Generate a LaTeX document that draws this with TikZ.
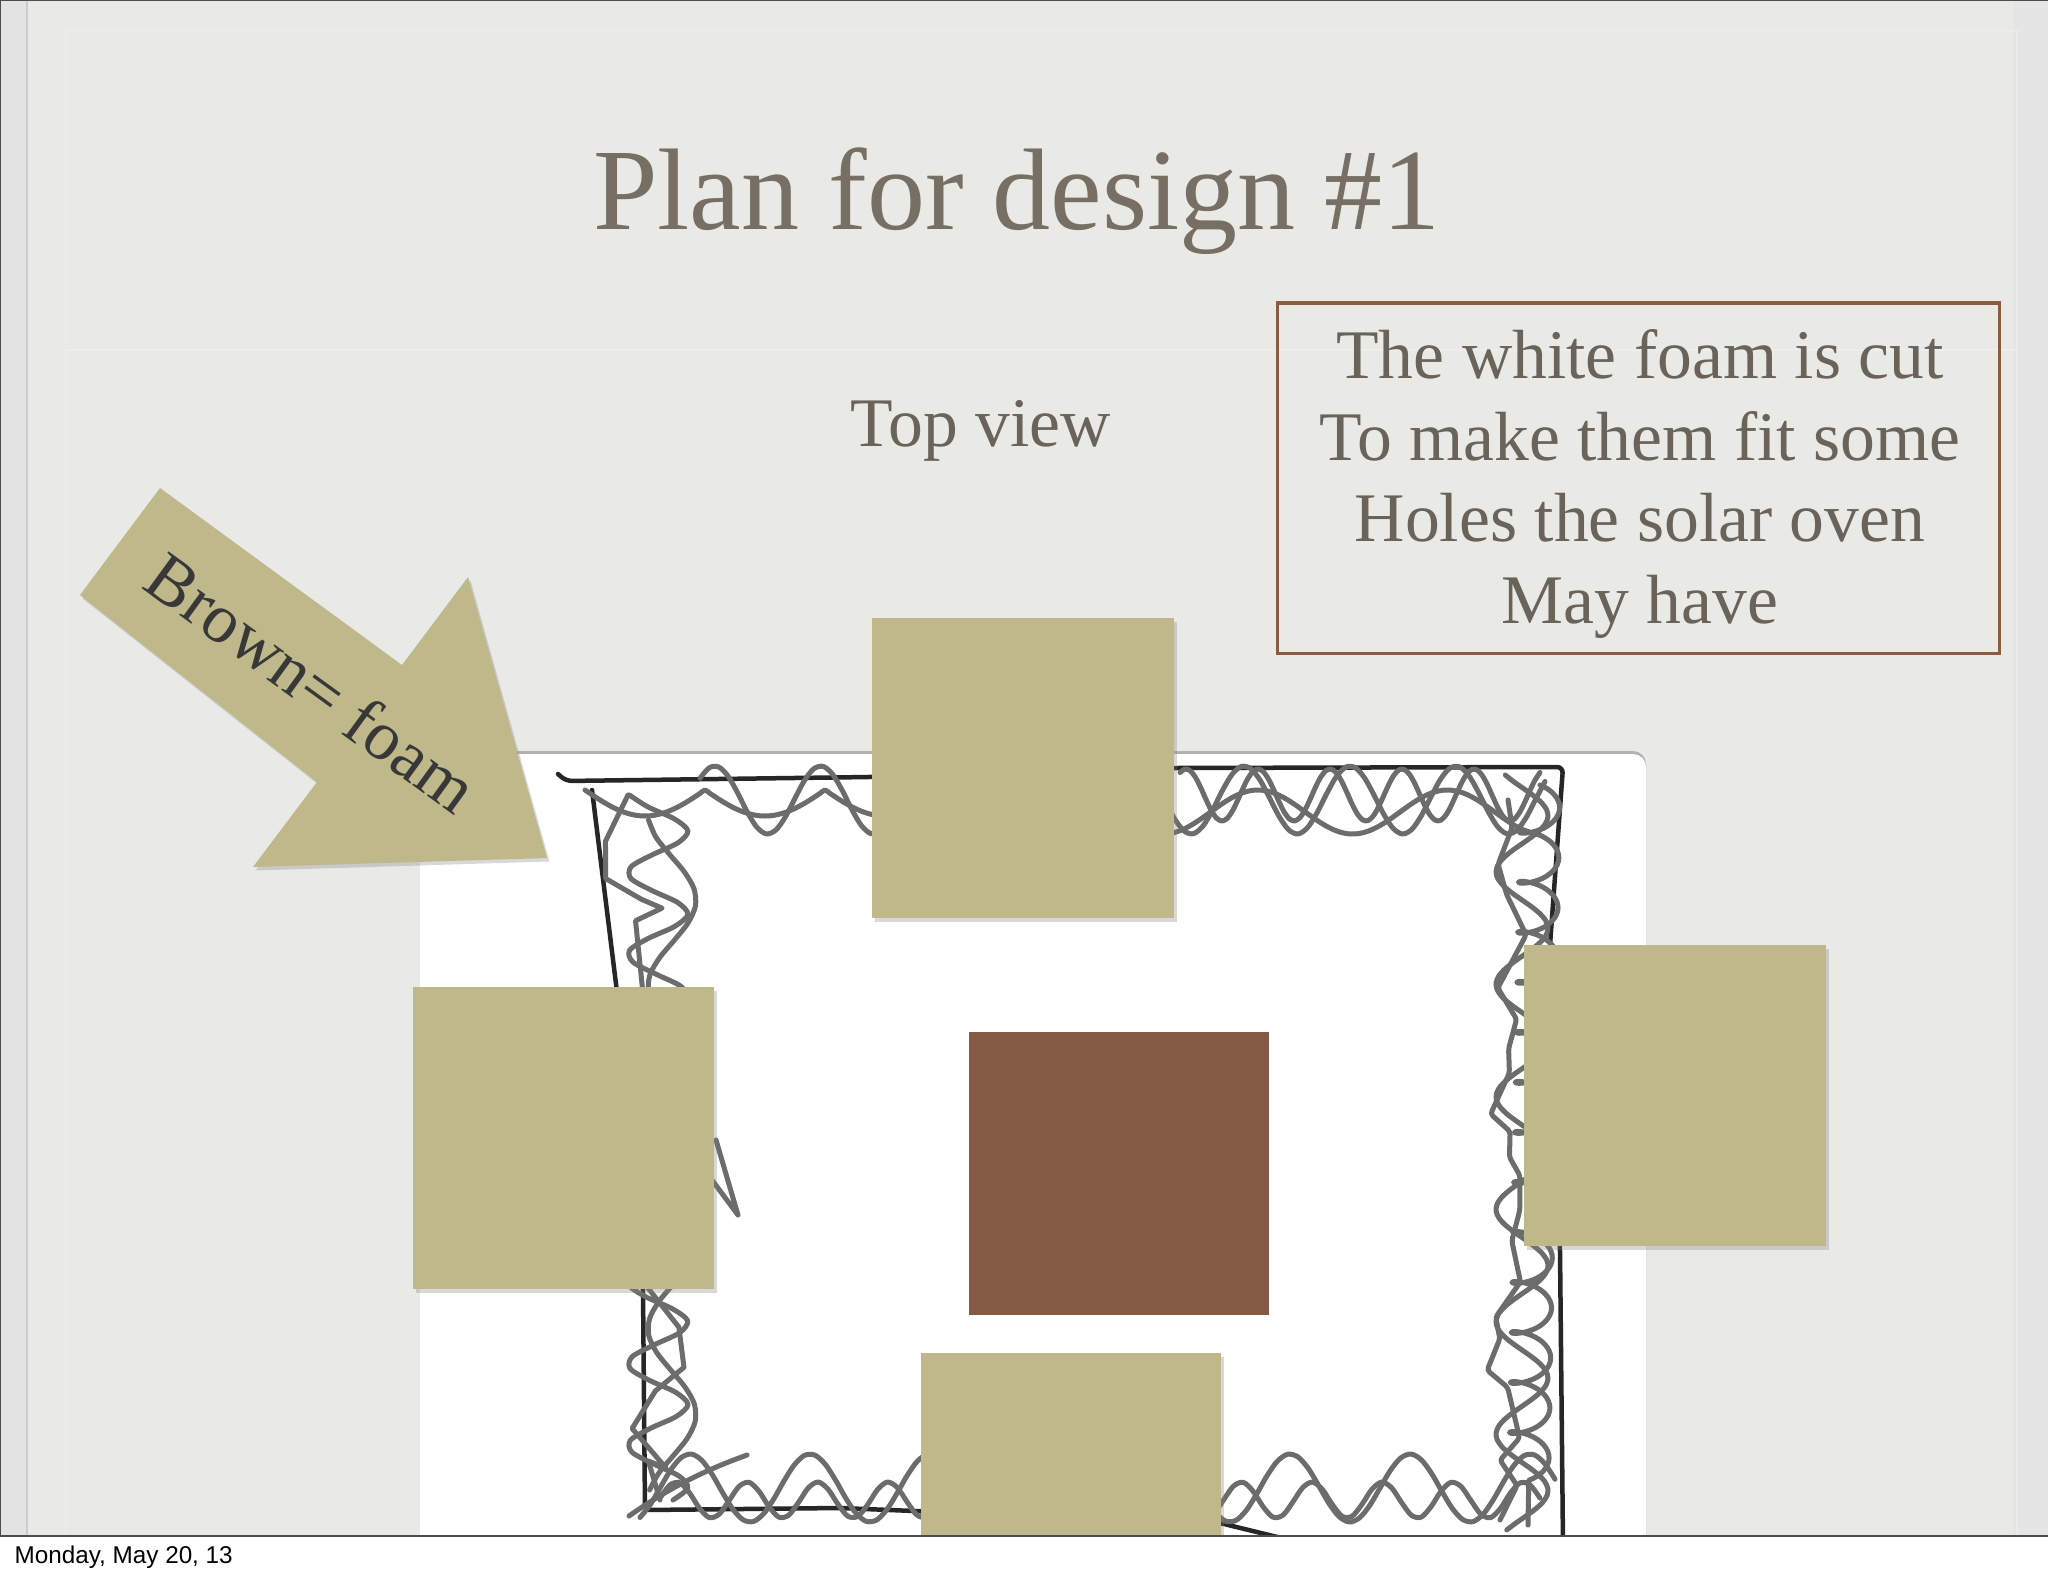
\documentclass[tikz,border=0pt]{standalone}
\usepackage{fontspec}
\setmainfont{Liberation Serif}
\newfontfamily\datefont{Liberation Sans}
\usepackage{xcolor}
\usetikzlibrary{shadows,decorations.pathmorphing,positioning}

\definecolor{slidebg}{HTML}{E9E9E6}
\definecolor{khaki}{HTML}{BEB88A}
\definecolor{foambrown}{HTML}{855A44}
\definecolor{boxline}{HTML}{8C5B42}
\definecolor{titlegrey}{HTML}{776F63}
\definecolor{textgrey}{HTML}{6A635A}
\definecolor{scribblegrey}{HTML}{6C6C6C}

\begin{document}
\begin{tikzpicture}[x=0.01cm,y=-0.01cm,
  foam/.style={fill=khaki,drop shadow={shadow xshift=0.025cm,shadow yshift=-0.035cm,opacity=0.3}},
  scribble/.style={draw=scribblegrey,line width=0.05cm,line join=round,line cap=round},
  frame/.style={draw=black!85,line width=0.045cm,line cap=round,line join=round},
  slidetext/.style={text=textgrey,inner sep=0pt,font=\fontsize{19.8}{23.3}\selectfont}]
\pgfmathsetseed{7}
\useasboundingbox (0,0) rectangle (2048,1576);

% slide
\fill[slidebg] (0,0) rectangle (2048,1536);
\fill[black!11] (0,0) rectangle (27,1536);
\fill[black!10] (2013,0) rectangle (2048,1536);
\draw[black!20,line width=0.02cm] (27,0) -- (27,1536);
\draw[black!8] (65,1536) -- (65,31) -- (2017,31) -- (2017,1536);
\draw[black!7] (65,350) -- (2017,350);
\draw[black!70,line width=0.02cm] (0,1536) -- (0,0) -- (2048,0);

% white board
\fill[black!30,rounded corners=0.13cm] (420,751) rectangle (1646,1600);
\fill[white,rounded corners=0.13cm] (420,754) rectangle (1646,1600);

% pencil frame
\draw[frame,rounded corners=0.06cm] (558,774) -- (566,781) -- (870,777) -- (1174,768) -- (1563,767) -- (1550,945) -- (1560,1250) -- (1563,1545);
\draw[frame,rounded corners=0.04cm] (592,790) -- (618,1000) -- (643,1290) -- (645,1510) -- (840,1508) -- (1063,1517) -- (1220,1523) -- (1310,1545);

% scribbles
\draw[scribble] plot[smooth,domain=700:1545,samples=90] (\x,{800+34*sin(3.4*\x)});
\draw[scribble] plot[smooth,domain=1174:1530,samples=50] (\x,{812+22*sin(1.9*\x+40)});
\draw[scribble] plot[smooth,domain=1180:1540,samples=70] (\x,{795+26*sin(5*\x+100)});
\draw[scribble] plot[smooth,domain=585:880,samples=60] (\x,{790+26*abs(sin(1.5*(\x-585)))});
\draw[scribble] plot[smooth,domain=775:1530,samples=110] ({1522+26*sin(3.2*\x)},\x);
\draw[scribble,decorate,decoration={coil,amplitude=0.2cm,segment length=0.5cm}] (1540,785) -- (1528,1525);
\draw[scribble,rounded corners=0.03cm,decorate,decoration={random steps,segment length=0.3cm,amplitude=0.2cm}] (1508,800) -- (1500,1520);
\draw[scribble,decorate,decoration={random steps,segment length=0.3cm,amplitude=0.3cm}] (628,795) -- (660,1500);
\draw[scribble] plot[smooth,domain=795:1500,samples=60] ({658+30*sin(4.4*\x+30)},\x);
\draw[scribble] plot[smooth,domain=820:1490,samples=40] ({672+24*sin(2.1*\x)},\x);
\draw[scribble] plot[smooth,domain=640:1555,samples=90] (\x,{1488+34*sin(3.0*\x)});
\draw[scribble] plot[smooth,domain=660:1540,samples=90] (\x,{1500+18*sin(5.1*\x+60)});
\draw[scribble] (629,1516) .. controls (680,1480) and (720,1465) .. (747,1455);
\draw[scribble] (716,1140) -- (738,1215) -- (712,1180);

% foam pieces
\fill[foam] (872,618) rectangle (1174,918);
\fill[foam] (413,987) rectangle (714,1289);
\fill[foam] (1524,945) rectangle (1826,1246);
\fill[foam] (921,1353) rectangle (1221,1600);
\fill[foambrown] (969,1032) rectangle (1269,1315);

% arrow
\fill[foam] (160,488) -- (402,665) -- (468,577) -- (547,858) -- (253,867) -- (317,782) -- (80,595) -- cycle;
\node[slidetext,text=black!78,rotate=-36,anchor=base] (legend) at (298,702) {Brown= foam};

% texts
\node[text=titlegrey,inner sep=0pt,font=\fontsize{33}{36}\selectfont,anchor=base] (title) at (1017,230) {Plan for design \#1};
\node[slidetext,anchor=base] (view) at (981,446) {Top view};
\draw[boxline,line width=0.03cm] (1277,303) rectangle (1999,653);
\node[slidetext,align=center] (note) at (1640,484) {The white foam is cut\\To make them fit some\\Holes the solar oven\\May have};

% footer
\fill[white] (0,1536) rectangle (2048,1576);
\draw[black!70,line width=0.025cm] (0,1536) -- (2048,1536);
\node[anchor=base west,inner sep=0pt,font=\datefont\fontsize{6.9}{8}\selectfont] (date) at (14,1563) {Monday, May 20, 13};
\end{tikzpicture}
\end{document}
